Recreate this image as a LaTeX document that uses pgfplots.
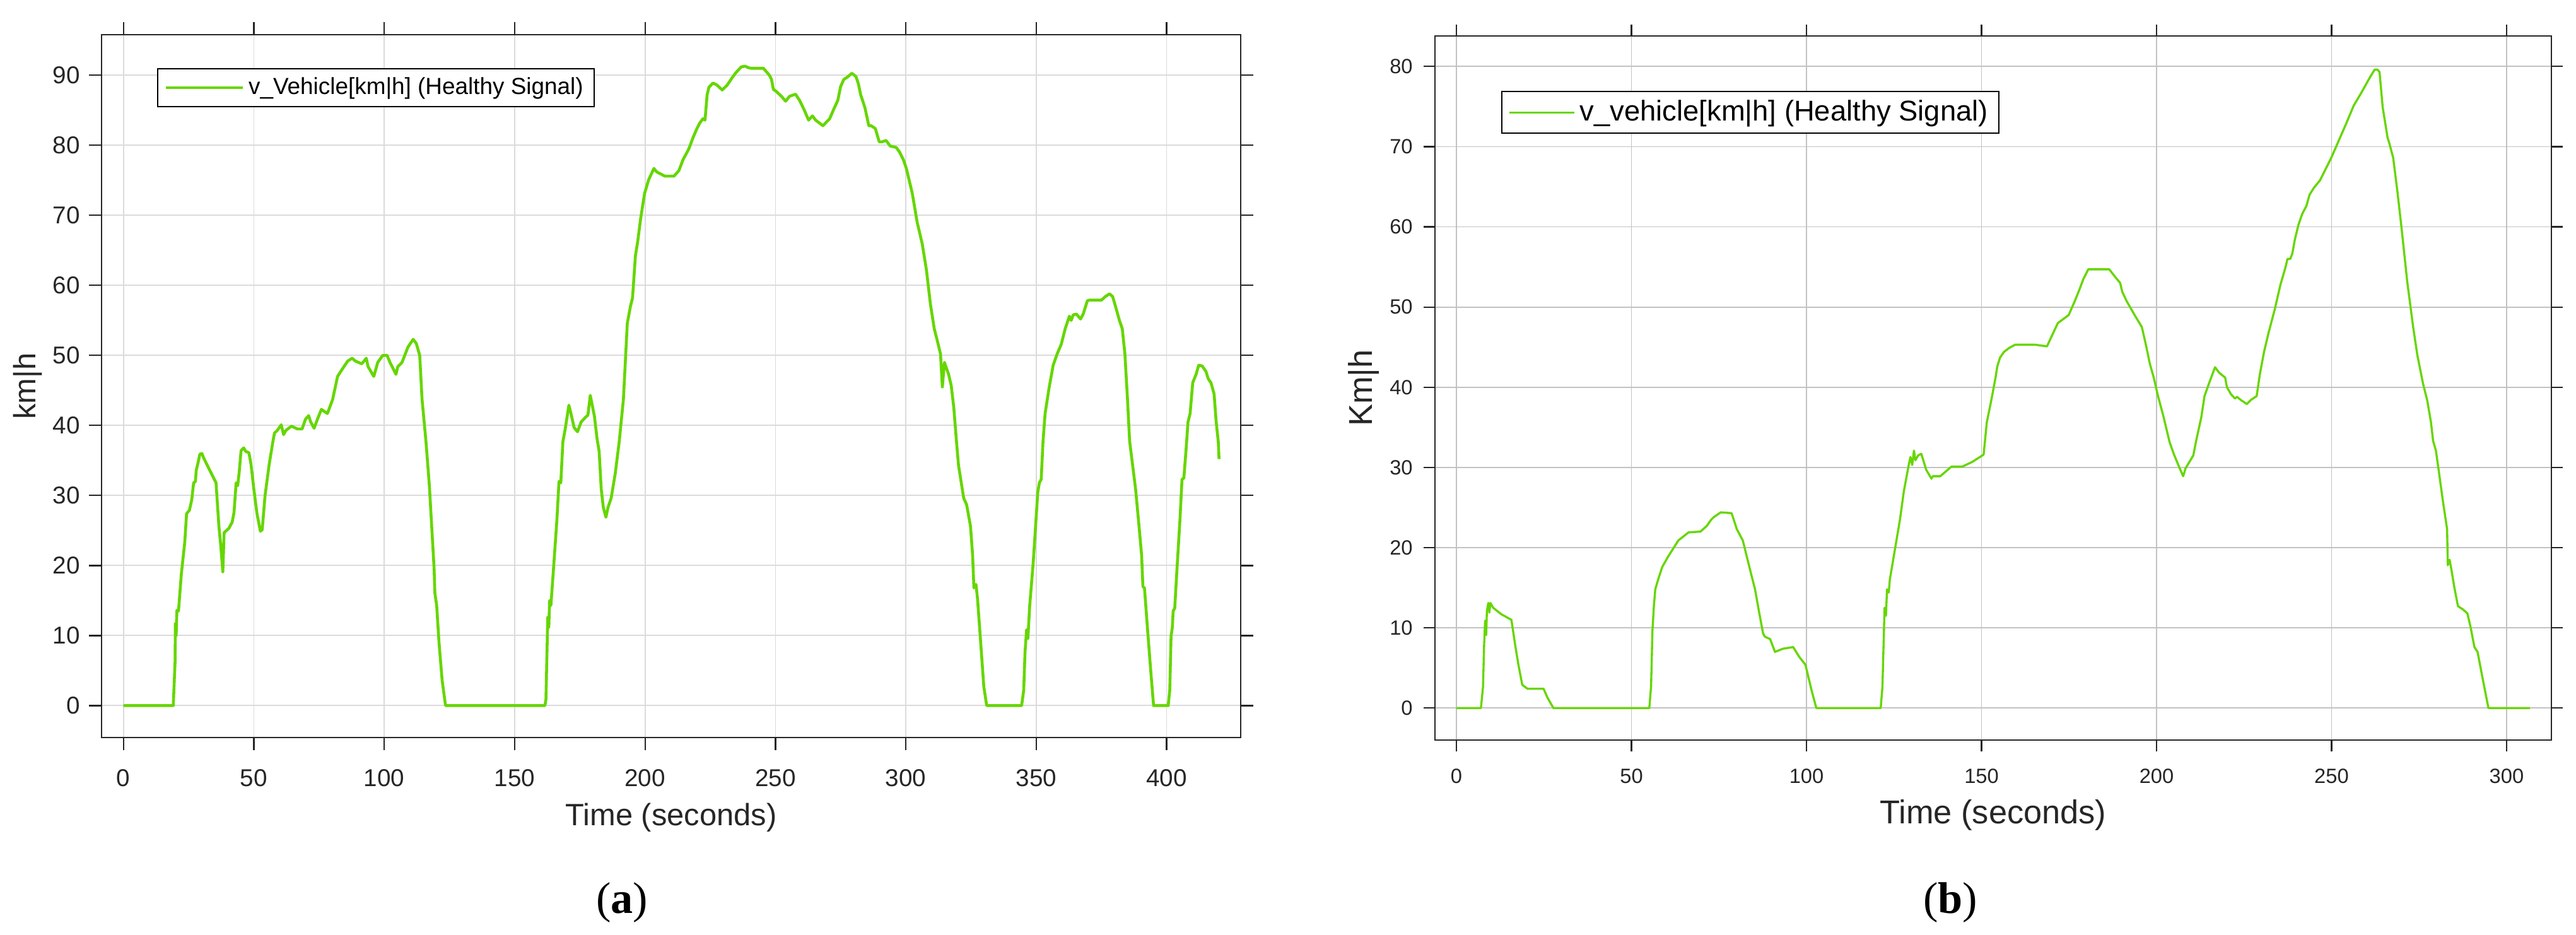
\documentclass[border=0pt]{standalone}
\usepackage{fontspec}
\setmainfont{Liberation Sans}
\newfontfamily\capfont{Liberation Serif}
\usepackage{pgfplots}
\pgfplotsset{compat=1.18}

\definecolor{sig}{RGB}{102,214,0}
\definecolor{axgray}{HTML}{262626}

% MATLAB-like look shared by both panels
\pgfplotsset{matlab/.style={
    scale only axis,
    axis line style={axgray, line width=0.65pt},
    tick style={axgray, line width=0.65pt},
    tick align=outside,
    xmajorgrids, ymajorgrids,
    /pgf/number format/assume math mode=true,
    ticklabel style={text=axgray},
    label style={text=axgray},
    legend cell align=left,
    legend style={draw=black, line width=0.6pt, fill=white, anchor=north west},
  }}

\begin{document}
\begin{tikzpicture}
  \path[use as bounding box] (0,0) rectangle (40.84,14.82);

  % ---------------- (a) ----------------
  \begin{axis}[matlab,
      at={(1.61cm,3.13cm)}, anchor=south west,
      width=18.06cm, height=11.14cm,
      xmin=-8.4, xmax=428.4, ymin=-4.56, ymax=95.8,
      xtick={0,50,...,400}, ytick={0,10,...,90},
      major tick length=0.2cm,
      grid style={gray!28, line width=0.5pt},
      ticklabel style={font=\fontsize{11}{13}\selectfont},
      xticklabel shift=0.18cm, yticklabel shift=0.02cm,
      xlabel={Time (seconds)}, ylabel={km|h},
      label style={font=\fontsize{13.9}{16}\selectfont},
      xlabel style={at={(axis description cs:0.5,0)}, anchor=base, yshift=-1.40cm},
      ylabel style={at={(axis description cs:-0.0648,0.5)}, anchor=center},
      legend style={at={(0.0487,0.9524)}, font=\fontsize{10.5}{12}\selectfont},
      legend image code/.code={\draw[#1] (0cm,0cm) -- (1.22cm,0cm);},
    ]
    \addplot[sig, line width=1.3pt, line join=round] coordinates {
      (0,0) (18.8,0) (19.1,0) (19.8,6.3) (19.9,11.7) (20.2,10.0) (20.5,13.6)
      (21.1,13.5) (22.2,18.8) (23.5,23.3) (24.2,27.4) (25.3,27.9) (26.2,29.4)
      (26.9,31.8) (27.6,32.0) (27.9,33.6) (28.5,34.5) (29.3,35.9) (30.1,36.0)
      (30.7,35.4) (35.5,31.8) (36.6,25.6) (37.3,22.9) (38.1,19.1) (38.6,24.7)
      (39.2,24.9) (40.4,25.3) (41.7,26.2) (42.4,27.6) (43.2,31.8) (43.8,31.4)
      (44.4,33.4) (45.1,36.4) (46.1,36.8) (46.9,36.3) (48.1,36.1) (48.9,34.5)
      (50.0,30.9) (51.2,27.4) (52.5,24.9) (53.2,25.1) (54.3,30.0) (55.9,34.5)
      (57.4,37.9) (57.9,38.9) (59.0,39.3) (60.5,40.1) (61.4,38.7) (62.3,39.3)
      (64.4,39.9) (66.7,39.5) (68.5,39.5) (69.8,40.9) (71.0,41.4) (71.8,40.5)
      (73.1,39.6) (74.4,40.9) (75.9,42.3) (78.2,41.7) (80.2,43.7) (82.1,47.0)
      (84.0,48.1) (86.0,49.2) (87.7,49.6) (88.9,49.2) (91.4,48.8) (93.1,49.6)
      (93.8,48.4) (96.0,47.0) (97.5,49.0) (99.4,50.0) (101.1,50.0) (102.2,49.0)
      (104.5,47.3) (105.2,48.4) (106.8,49.0) (109.1,51.2) (111.1,52.3) (112.3,51.7)
      (113.6,50.0) (114.5,43.7) (116.0,37.7) (117.3,31.4) (119.1,19.7) (119.4,16.1)
      (120.1,14.3) (121.0,9.0) (122.2,3.6) (123.5,0) (161.6,0) (162.0,0.9)
      (162.7,12.6) (163.1,11.2) (163.4,15.0) (163.9,14.3) (165.1,20.6) (166.2,26.5)
      (167.0,32.0) (167.7,31.8) (168.5,37.7) (169.3,39.3) (170.8,42.9) (171.6,41.7)
      (172.8,39.7) (174.1,39.1) (175.5,40.5) (177.0,41.1) (178.1,41.5) (179.0,44.3)
      (180.6,41.3) (181.6,38.1) (182.4,36.3) (183.2,30.9) (184.0,28.3) (185.0,26.9)
      (185.8,28.3) (187.0,29.6) (188.6,33.2) (190.1,37.7) (191.7,43.7) (193.2,54.6)
      (194.4,57.0) (195.2,58.2) (196.3,64.2) (197.2,66.3) (198.3,69.5) (199.8,73.1)
      (201.4,75.1) (203.4,76.7) (204.5,76.2) (207.6,75.6) (211.1,75.6) (213.0,76.4)
      (214.5,77.9) (216.8,79.5) (218.4,81.1) (219.9,82.4) (221.0,83.2) (222.2,83.8)
      (223.0,83.6) (223.8,87.2) (224.5,88.3) (226.1,88.9) (227.6,88.6) (229.6,87.9)
      (231.5,88.6) (233.3,89.6) (234.9,90.4) (236.9,91.2) (238.4,91.3) (239.5,91.1)
      (240.7,91.0) (245.4,91.0) (247.7,90.0) (248.5,89.4) (249.2,88.0) (250.3,87.7)
      (252.3,87.0) (253.9,86.3) (255.4,87.0) (257.7,87.3) (259.3,86.4) (261.1,85.0)
      (262.7,83.6) (264.2,84.2) (265.4,83.6) (268.2,82.8) (270.8,83.8) (272.4,85.2)
      (273.9,86.4) (275.0,88.4) (276.2,89.4) (277.8,89.8) (279.3,90.3) (280.9,89.8)
      (281.8,88.8) (282.7,87.2) (284.3,85.4) (285.8,82.8) (286.7,82.8) (288.3,82.4)
      (289.8,80.5) (290.9,80.5) (292.4,80.7) (294.0,79.9) (296.3,79.7) (297.5,79.1)
      (299.1,77.9) (300.2,76.7) (302.5,73.1) (304.3,69.1) (306.3,65.9) (307.9,62.2)
      (309.4,57.4) (310.9,53.8) (312.0,52.2) (313.3,50.2) (314.0,45.5) (314.8,49.0)
      (316.4,47.3) (317.4,45.7) (318.4,42.5) (319.4,37.8) (320.2,34.3) (322.2,29.6)
      (323.3,28.7) (324.8,25.6) (325.6,21.5) (326.1,16.8) (326.9,17.3) (327.5,15.2)
      (328.7,9.0) (329.9,2.7) (331.0,0) (344.4,0) (345.2,2.2) (345.7,7.6)
      (346.3,10.8) (346.8,9.6) (347.5,14.3) (348.8,20.2) (349.5,24.2) (350.6,30.5)
      (351.2,31.8) (351.9,32.3) (352.6,37.7) (353.4,41.7) (354.9,45.3) (356.5,48.6)
      (358.0,50.2) (359.6,51.6) (361.1,53.8) (362.7,55.6) (363.4,55.0) (364.2,55.8)
      (365.4,55.9) (367.0,55.2) (368.0,55.9) (369.6,57.8) (370.4,57.9) (375.0,57.9)
      (376.5,58.4) (378.1,58.8) (379.3,58.4) (380.4,57.0) (381.9,55.0) (383.0,53.8)
      (384.0,50.2) (385.0,43.7) (385.8,37.8) (388.1,30.9) (389.2,26.5) (390.4,21.5)
      (390.9,17.0) (391.5,16.8) (392.7,10.8) (394.0,4.5) (395.0,0) (400.6,0)
      (401.2,2.2) (401.7,9.9) (402.2,11.2) (402.5,13.5) (403.1,13.9) (404.0,19.7)
      (405.1,26.5) (405.9,32.3) (406.6,32.5) (407.4,36.3) (408.2,40.5) (409.0,41.7)
      (410.0,46.1) (411.3,47.3) (412.3,48.6) (413.6,48.5) (415.1,47.7) (415.9,46.7)
      (417.0,46.1) (418.2,44.5) (419.0,40.5) (419.8,37.7) (420.1,35.2)
    };
    \addlegendentry{v\_Vehicle[km|h] (Healthy Signal)}
  \end{axis}

  % ---------------- (b) ----------------
  \begin{axis}[matlab,
      at={(22.75cm,3.09cm)}, anchor=south west,
      width=17.70cm, height=11.16cm,
      xmin=-6.13, xmax=312.8, ymin=-3.99, ymax=83.8,
      xtick={0,50,...,300}, ytick={0,10,...,80},
      major tick length=0.18cm,
      grid style={gray!48, line width=0.5pt},
      ticklabel style={font=\fontsize{9.3}{11}\selectfont},
      xticklabel shift=0.15cm, yticklabel shift=0.05cm,
      xlabel={Time (seconds)}, ylabel={Km|h},
      label style={font=\fontsize{14.9}{17}\selectfont},
      xlabel style={at={(axis description cs:0.5,0)}, anchor=base, yshift=-1.33cm},
      ylabel style={at={(axis description cs:-0.0638,0.5)}, anchor=center},
      legend style={at={(0.0593,0.922)}, font=\fontsize{12.9}{15}\selectfont},
      legend image code/.code={\draw[#1] (0cm,0cm) -- (1.03cm,0cm);},
    ]
    \addplot[sig, line width=0.95pt, line join=round] coordinates {
      (0,0) (7.0,0) (7.6,2.7) (7.9,7.8) (8.2,10.9) (8.5,9.1) (8.7,12.1) (9.1,13.1)
      (9.4,11.9) (9.7,13.1) (10.5,12.5) (12.8,11.7) (15.7,11.0) (16.8,7.8)
      (17.7,5.4) (18.8,2.9) (20.3,2.4) (24.9,2.4) (26.0,1.3) (27.7,0) (55.1,0)
      (55.6,2.7) (56.0,9.7) (56.4,12.7) (56.8,14.8) (57.2,15.4) (57.6,16.0)
      (58.8,17.6) (60.5,18.9) (63.4,20.9) (66.3,21.9) (69.7,22.0) (71.5,22.7)
      (72.8,23.5) (73.5,23.8) (75.5,24.4) (78.6,24.3) (80.1,22.3) (81.8,20.9)
      (83.9,17.2) (85.3,14.8) (86.4,12.1) (87.6,9.3) (88.1,8.9) (89.6,8.6)
      (91.0,7.0) (93.3,7.4) (96.2,7.6) (97.9,6.4) (99.7,5.4) (101.4,2.3)
      (102.8,0) (121.2,0) (121.7,2.7) (122.3,12.5) (122.7,11.5) (123.0,14.8)
      (123.5,14.4) (123.8,16.0) (125.0,19.1) (126.7,23.5) (127.8,27.0) (129.2,30.3)
      (129.7,31.3) (130.2,30.3) (130.7,32.1) (131.1,30.9) (131.9,31.5) (132.8,31.7)
      (134.2,29.7) (135.7,28.6) (136.1,28.9) (138.2,28.9) (141.4,30.1) (144.5,30.1)
      (147.4,30.7) (150.6,31.6) (151.5,35.6) (152.8,38.4) (154.0,41.2) (154.5,42.6)
      (155.3,43.7) (156.4,44.4) (157.9,44.9) (159.6,45.3) (165.3,45.3) (168.7,45.1)
      (170.4,46.7) (171.8,48.0) (174.9,49.0) (176.6,50.7) (177.9,52.1) (179.1,53.5)
      (180.5,54.7) (186.5,54.7) (187.9,53.9) (189.6,53.0) (190.2,51.9) (191.5,50.7)
      (193.6,49.1) (195.8,47.5) (196.9,45.4) (198.1,42.9) (199.2,41.2) (200.3,39.1)
      (202.0,36.3) (203.7,33.2) (204.9,31.7) (206.6,29.9) (207.6,28.9) (208.3,29.9)
      (209.4,30.7) (210.5,31.5) (211.3,33.3) (212.8,36.3) (213.7,38.9) (215.0,40.5)
      (216.2,41.9) (216.7,42.5) (217.9,41.8) (219.6,41.2) (220.1,40.0) (221.3,39.1)
      (222.4,38.6) (223.0,38.8) (224.1,38.4) (225.8,37.9) (226.9,38.4) (228.6,38.9)
      (229.5,41.6) (230.7,44.4) (232.0,46.8) (233.7,49.6) (235.4,52.8) (236.8,54.9)
      (237.4,56.0) (238.2,56.0) (238.8,56.7) (239.5,58.4) (240.5,60.2) (241.6,61.6)
      (242.8,62.6) (243.7,64.0) (245.0,64.9) (246.7,65.8) (249.9,68.6) (251.8,70.5)
      (254.1,72.8) (256.3,75.1) (258.6,76.8) (260.9,78.6) (262.3,79.6) (263.1,79.6)
      (263.7,79.3) (264.6,74.9) (266.0,71.1) (266.5,70.4) (267.6,68.6) (268.8,64.4)
      (269.9,60.2) (271.6,53.2) (273.3,47.5) (274.5,44.0) (276.1,40.5) (277.3,38.4)
      (278.4,35.6) (279.0,33.3) (279.8,32.1) (280.7,29.3) (281.8,25.8) (283.0,22.3)
      (283.2,17.8) (283.7,18.5) (284.1,17.6) (285.0,15.2) (286.1,12.7) (287.5,12.3)
      (288.8,11.8) (289.7,10.1) (290.8,7.6) (291.7,7.0) (293.1,3.8) (294.8,0)
      (306.7,0)
    };
    \addlegendentry{v\_vehicle[km|h] (Healthy Signal)}
  \end{axis}

  % sub-figure captions
  \node[anchor=base, font=\capfont\fontsize{20}{24}\selectfont] at (9.86,0.34) {(\textbf{a})};
  \node[anchor=base, font=\capfont\fontsize{20}{24}\selectfont] at (30.92,0.34) {(\textbf{b})};
\end{tikzpicture}
\end{document}
